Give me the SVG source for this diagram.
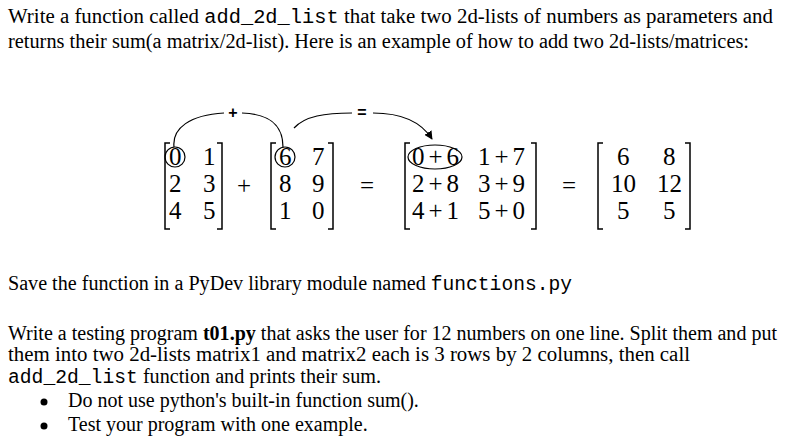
<svg xmlns="http://www.w3.org/2000/svg" width="791" height="442" viewBox="0 0 791 442">
<style>
.t{font-family:"Liberation Serif",serif;font-size:20px;fill:#000}
.c{font-family:"Liberation Mono",monospace;font-size:19.5px}
.m{font-family:"Liberation Serif",serif;font-size:25px;fill:#000}
.s{letter-spacing:4px}
.b{fill:none;stroke:#000;stroke-width:1.5}
.l{fill:none;stroke:#000;stroke-width:1.2}
</style>
<defs><marker id="a" viewBox="0 0 10 10" refX="9" refY="5" markerWidth="7" markerHeight="7" orient="auto"><path d="M0,0L10,5L0,10z"/></marker></defs>
<rect width="791" height="442" fill="#fff"/>
<text class="t" x="8" y="23" textLength="765" lengthAdjust="spacingAndGlyphs">Write a function called <tspan class="c">add_2d_list</tspan> that take two 2d-lists of numbers as parameters and</text>
<text class="t" x="8" y="48" textLength="741" lengthAdjust="spacingAndGlyphs">returns their sum(a matrix/2d-list). Here is an example of how to add two 2d-lists/matrices:</text>
<g id="m1"><path class="b" d="M170,143h-5v86h5M217,143h5v86h-5"/>
<text class="m" x="169" y="165">0</text><text class="m" x="203" y="165">1</text>
<text class="m" x="169" y="192">2</text><text class="m" x="203" y="192">3</text>
<text class="m" x="169" y="219">4</text><text class="m" x="203" y="219">5</text>
<circle class="l" cx="175" cy="157" r="10"/></g>
<text class="m" x="237" y="194">+</text>
<g id="m2"><path class="b" d="M276,143h-5v86h5M328,143h5v86h-5"/>
<text class="m" x="279" y="165">6</text><text class="m" x="312" y="165">7</text>
<text class="m" x="279" y="192">8</text><text class="m" x="312" y="192">9</text>
<text class="m" x="279" y="219">1</text><text class="m" x="312" y="219">0</text>
<circle class="l" cx="285" cy="157" r="10"/></g>
<text class="m" x="360" y="194">=</text>
<g id="m3"><path class="b" d="M410,143h-5v86h5M531,143h5v86h-5"/>
<text class="m s" x="412" y="165">0+6</text><text class="m s" x="478" y="165">1+7</text>
<text class="m s" x="412" y="192">2+8</text><text class="m s" x="478" y="192">3+9</text>
<text class="m s" x="412" y="219">4+1</text><text class="m s" x="478" y="219">5+0</text>
<ellipse class="l" cx="435" cy="157" rx="27" ry="12"/></g>
<text class="m" x="562" y="194">=</text>
<g id="m4"><path class="b" d="M603,143h-5v86h5M685,143h5v86h-5"/>
<text class="m" x="617" y="165">6</text><text class="m" x="663" y="165">8</text>
<text class="m" x="611" y="192">10</text><text class="m" x="657" y="192">12</text>
<text class="m" x="617" y="219">5</text><text class="m" x="663" y="219">5</text></g>
<g id="connectors">
<path class="l" d="M174,147C172,128 190,115 224,113M242,113C270,114 283,125 283,147"/>
<path class="l" d="M294,128C305,116 325,113 352,113M373,113C400,113 420,120 432,139" marker-end="url(#a)"/>
<text x="233" y="118" font-family="Liberation Sans,sans-serif" font-size="16" font-weight="bold" text-anchor="middle">+</text>
<text x="362" y="118" font-family="Liberation Sans,sans-serif" font-size="16" font-weight="bold" text-anchor="middle">=</text>
</g>
<text class="t" x="8" y="290" textLength="564" lengthAdjust="spacingAndGlyphs">Save the function in a PyDev library module named <tspan class="c">functions.py</tspan></text>
<text class="t" x="8" y="340" textLength="769" lengthAdjust="spacingAndGlyphs">Write a testing program <tspan font-weight="bold">t01.py</tspan> that asks the user for 12 numbers on one line. Split them and put</text>
<text class="t" x="8" y="361" textLength="682" lengthAdjust="spacingAndGlyphs">them into two 2d-lists matrix1 and matrix2 each is 3 rows by 2 columns, then call</text>
<text class="t" x="8" y="383" textLength="373" lengthAdjust="spacingAndGlyphs"><tspan class="c">add_2d_list</tspan> function and prints their sum.</text>
<circle cx="44" cy="402" r="3.5"/><text class="t" x="68" y="407">Do not use python's built-in function sum().</text>
<circle cx="44" cy="426" r="3.5"/><text class="t" x="68" y="431">Test your program with one example.</text>
</svg>
